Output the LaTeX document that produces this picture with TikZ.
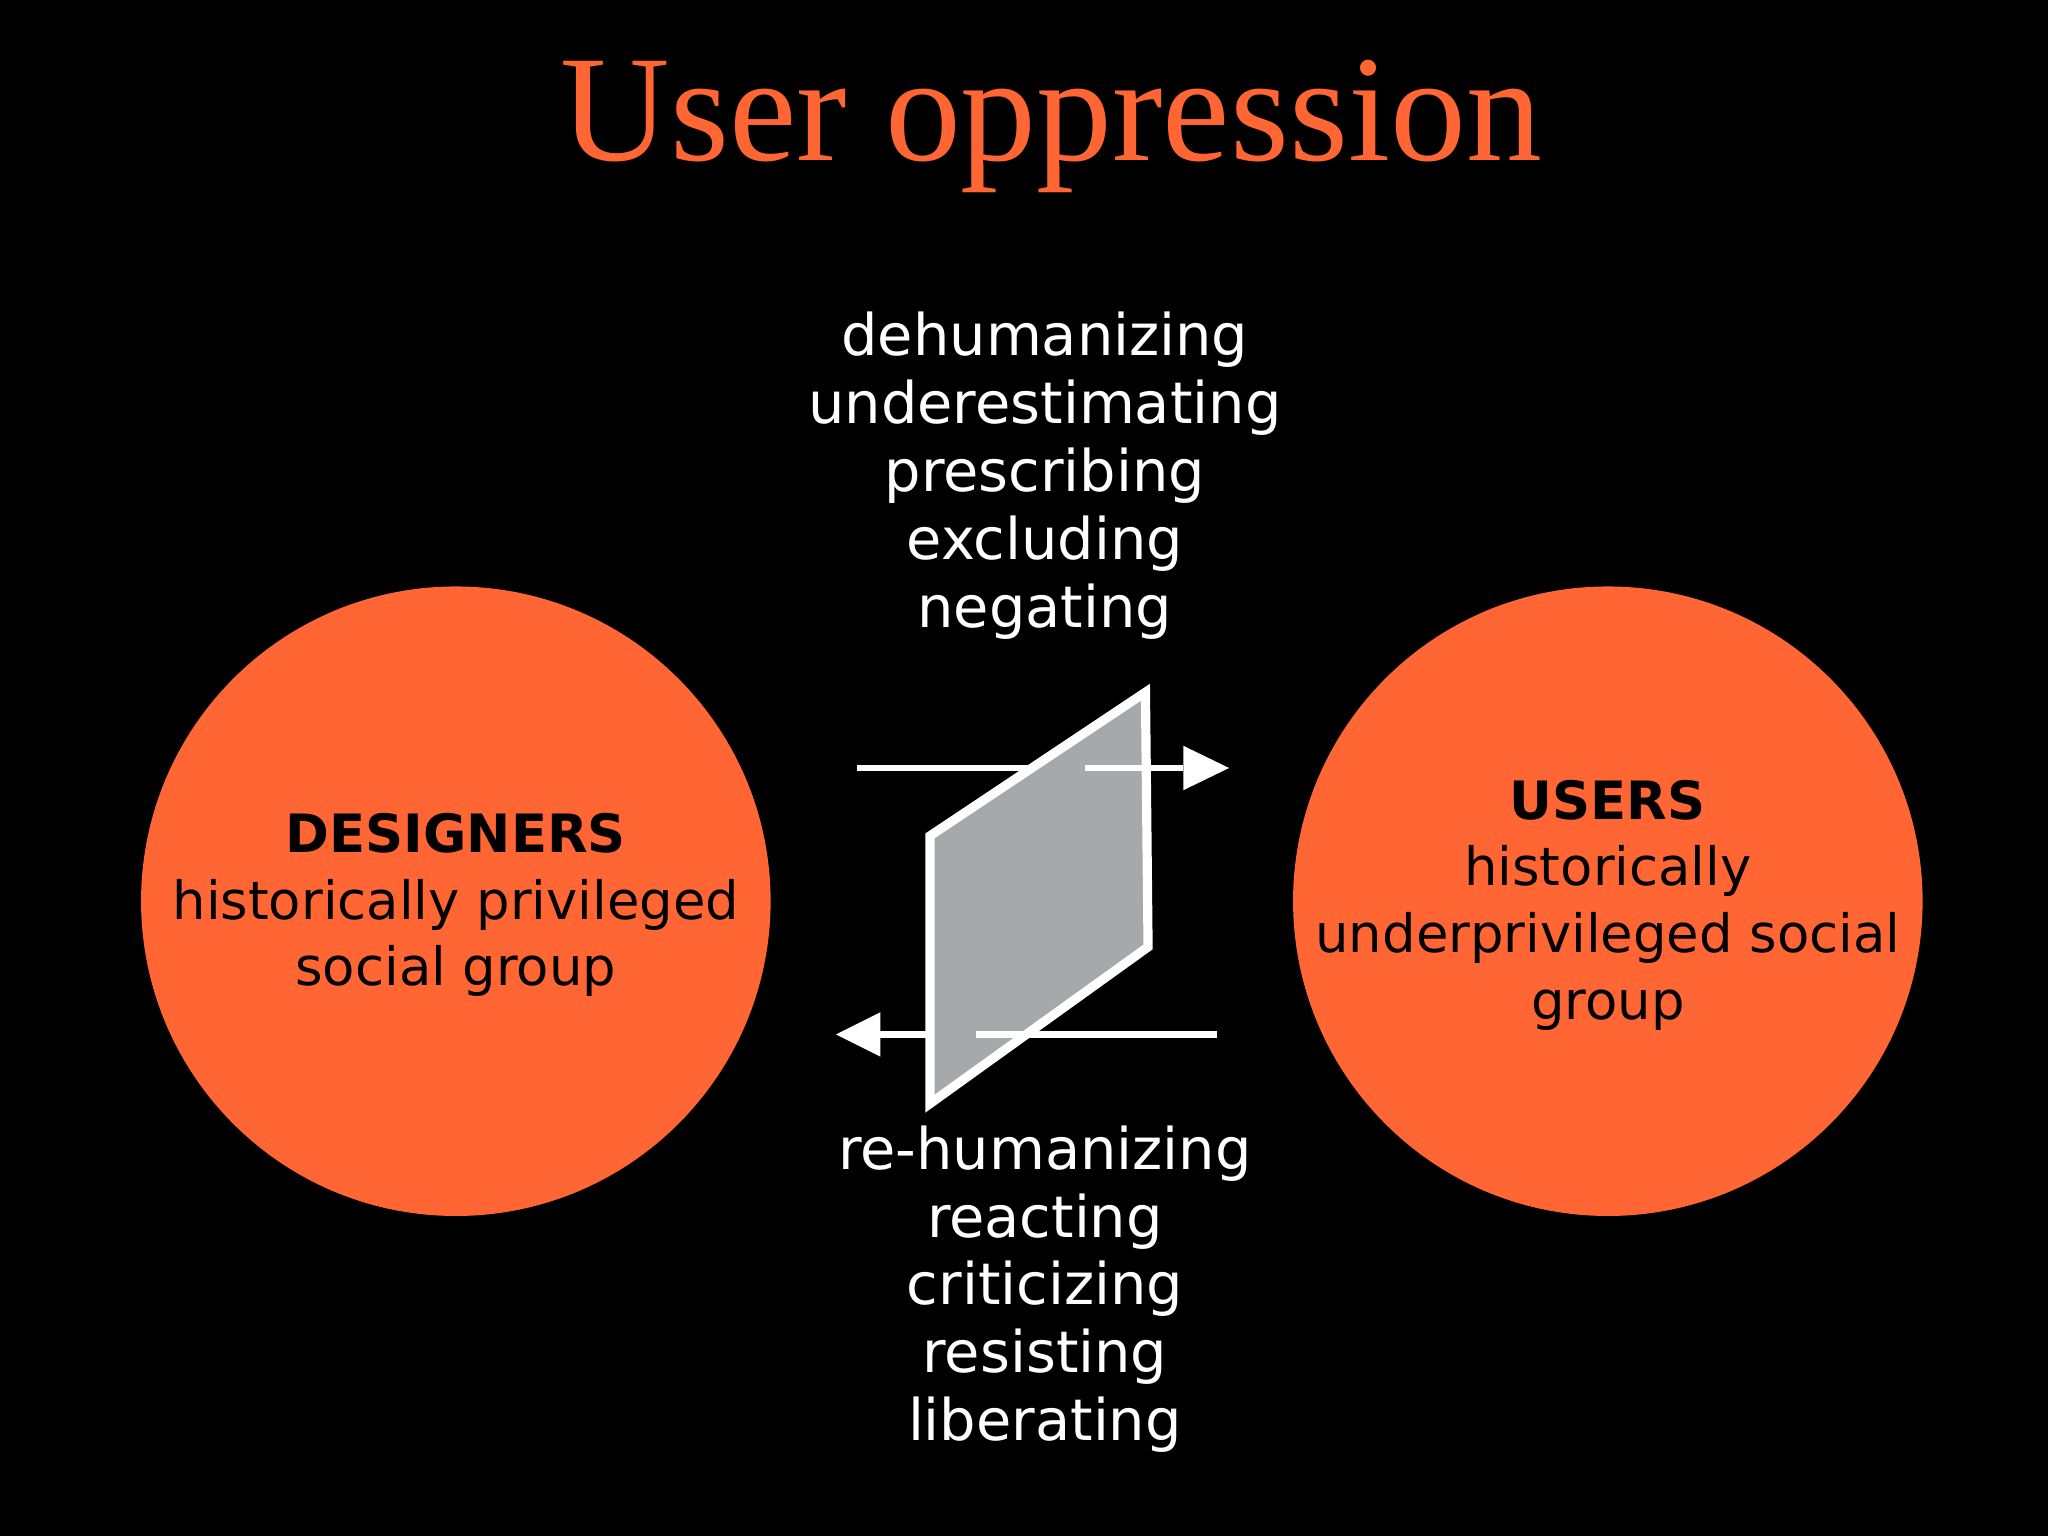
\documentclass[tikz,border=0pt]{standalone}
\usepackage{fontspec}
\setmainfont{DejaVu Sans}
\newfontfamily\titlefont{Liberation Serif}
\definecolor{org}{HTML}{FF6633}
\definecolor{plane}{HTML}{A6A8AB}
\begin{document}
\begin{tikzpicture}[x=0.01cm,y=-0.01cm,
  circ/.style={circle,fill=org,minimum size=482*0.01cm,inner sep=0pt},
  ctext/.style={align=center,font=\fontsize{11.5}{14.5}\selectfont,text=black},
  wtext/.style={align=center,font=\fontsize{12.5}{14.8}\selectfont,text=white},
  wline/.style={white,line width=1.4pt},
  ahead/.style={white,fill=white}]
\fill[black] (0,0) rectangle (1568,1176);
\useasboundingbox (0,0) rectangle (1568,1176);
\node[text=org,font=\titlefont\fontsize{33}{36}\selectfont] (title) at (805,97) {User oppression};
\node[circ] (des) at (349,690) {};
\node[circ] (usr) at (1231,690) {};
\node[ctext] at (349,693) {\textbf{DESIGNERS}\\historically privileged\\social group};
\node[ctext] at (1231,693) {\textbf{USERS}\\historically\\underprivileged social\\group};
\node[wtext] (top) at (800,364) {dehumanizing\\underestimating\\prescribing\\excluding\\negating};
\node[wtext] (bot) at (800,987) {re-humanizing\\reacting\\criticizing\\resisting\\liberating};
\coordinate (a1) at (656,588); \coordinate (a2) at (790,588);
\coordinate (a3) at (831,588); \coordinate (a4) at (906,588);
\coordinate (b1) at (932,792); \coordinate (b2) at (747,792);
\coordinate (b3) at (712,792); \coordinate (b4) at (674,792);
\draw[wline] (a1) -- (a2);
\draw[wline] (b3) -- (b4);
\draw[white,line width=2pt,fill=plane,line join=miter] (712,640) -- (877,530) -- (879,725) -- (712,845) -- cycle;
\draw[wline] (a3) -- (a4);
\fill[white] (906,571) -- (941,588) -- (906,605) -- cycle;
\draw[wline] (b1) -- (b2);
\fill[white] (674,775) -- (640,792) -- (674,809) -- cycle;
\end{tikzpicture}
\end{document}
